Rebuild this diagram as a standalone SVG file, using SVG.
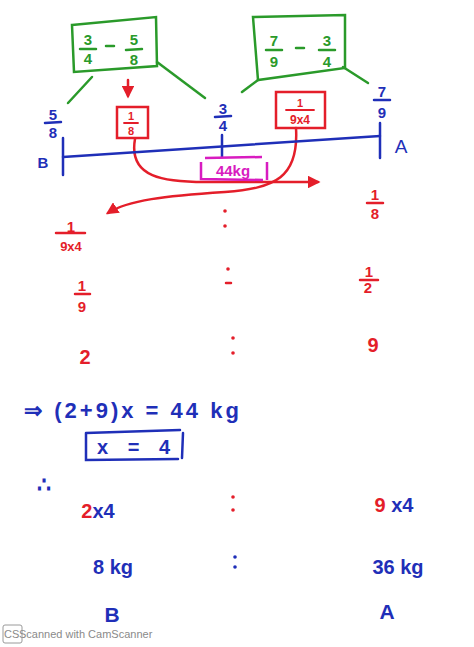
<svg xmlns="http://www.w3.org/2000/svg" width="474" height="647" viewBox="0 0 474 647">
<style>
text{font-family:"Liberation Sans",Arial,sans-serif;text-anchor:middle}
.g{fill:#2a9a2a}.gs{stroke:#2a9a2a;stroke-width:2.5;fill:none;stroke-linecap:round}
.b{fill:#1f2fb8}.bs{stroke:#1f2fb8;stroke-width:2.5;fill:none;stroke-linecap:round}
.r{fill:#e41e2a}.rs{stroke:#e41e2a;stroke-width:2.5;fill:none;stroke-linecap:round}
.m{fill:#d81cc0}.ms{stroke:#d81cc0;stroke-width:2.5;fill:none}
.f{font-size:15px;font-weight:bold}
.big{font-size:22px;font-weight:bold}
</style>
<defs>
<marker id="ah" viewBox="0 0 10 10" refX="8" refY="5" markerWidth="5" markerHeight="5" orient="auto">
<path d="M0,0 L10,5 L0,10 z" fill="#e41e2a"/>
</marker>
</defs>
<rect width="474" height="647" fill="#ffffff"/>

<g id="box1">
<path class="gs" d="M72,25 L156,17 L157,66 L74,72 Z"/>
<text class="g f" x="88" y="45">3</text>
<line class="gs" x1="80" y1="49" x2="96" y2="49"/>
<text class="g f" x="88" y="64">4</text>
<line class="gs" x1="106" y1="46" x2="114" y2="46"/>
<text class="g f" x="134" y="45">5</text>
<line class="gs" x1="126" y1="50" x2="142" y2="49"/>
<text class="g f" x="134" y="65">8</text>
</g>

<g id="box2">
<path class="gs" d="M253,17 L345,15 L345,68 L258,80 Z"/>
<text class="g f" x="274" y="46">7</text>
<line class="gs" x1="266" y1="50" x2="282" y2="50"/>
<text class="g f" x="274" y="67">9</text>
<line class="gs" x1="296" y1="48" x2="304" y2="48"/>
<text class="g f" x="327" y="46">3</text>
<line class="gs" x1="319" y1="50" x2="335" y2="50"/>
<text class="g f" x="327" y="67">4</text>
</g>

<g id="connectors">
<line class="gs" x1="92" y1="77" x2="68" y2="103"/>
<line class="gs" x1="157" y1="62" x2="205" y2="98"/>
<line class="gs" x1="258" y1="80" x2="242" y2="92"/>
<line class="gs" x1="343" y1="67" x2="368" y2="83"/>
<line class="rs" x1="128" y1="80" x2="128" y2="96" marker-end="url(#ah)"/>
<path class="rs" d="M135,139 C128,178 165,182 205,182 L318,182" marker-end="url(#ah)"/>
<path class="rs" d="M296,128 C299,178 275,188 225,192 C165,196 128,200 108,213" marker-end="url(#ah)"/>
</g>

<g id="redbox1">
<rect class="rs" x="117" y="107" width="31" height="31"/>
<text class="r" style="font-size:11px;font-weight:bold" x="131" y="120">1</text>
<line class="rs" x1="124" y1="123" x2="138" y2="123" style="stroke-width:1.8"/>
<text class="r" style="font-size:11px;font-weight:bold" x="131" y="135">8</text>
</g>

<g id="redbox2">
<rect class="rs" x="276" y="92" width="49" height="36"/>
<text class="r" style="font-size:11px;font-weight:bold" x="300" y="107">1</text>
<line class="rs" x1="286" y1="110" x2="314" y2="110" style="stroke-width:1.8"/>
<text class="r" style="font-size:12px;font-weight:bold" x="300" y="124">9x4</text>
</g>

<g id="numberline">
<text class="b f" x="53" y="120">5</text>
<line class="bs" x1="45" y1="123" x2="61" y2="122"/>
<text class="b f" x="53" y="138">8</text>
<text class="b f" x="223" y="114">3</text>
<line class="bs" x1="215" y1="117" x2="231" y2="116"/>
<text class="b f" x="223" y="131">4</text>
<text class="b f" x="382" y="97">7</text>
<line class="bs" x1="374" y1="100" x2="390" y2="100"/>
<text class="b f" x="382" y="118">9</text>
<text class="b f" x="43" y="168">B</text>
<line class="bs" x1="63" y1="157" x2="380" y2="136"/>
<line class="bs" x1="63" y1="138" x2="63" y2="175"/>
<line class="bs" x1="380" y1="123" x2="380" y2="158"/>
<line class="bs" x1="222" y1="135" x2="222" y2="157"/>
<text class="b" style="font-size:19px" x="401" y="153">A</text>
</g>

<g id="total">
<path class="ms" d="M205,158 L262,157 M201,162 L201,179 L263,180 M267,162 L267,180"/>
<text class="m" style="font-size:15px;font-weight:bold" x="233" y="176">44kg</text>
</g>

<g id="ratio1">
<text class="r f" x="375" y="200">1</text>
<line class="rs" x1="367" y1="203" x2="383" y2="203"/>
<text class="r f" x="375" y="219">8</text>
<circle class="r" cx="225" cy="211" r="1.8"/>
<circle class="r" cx="225" cy="226" r="1.8"/>
<text class="r f" x="71" y="232">1</text>
<line class="rs" x1="56" y1="233" x2="85" y2="233"/>
<text class="r" style="font-size:13px;font-weight:bold" x="71" y="251">9x4</text>
</g>

<g id="ratio2">
<text class="r f" x="82" y="291">1</text>
<line class="rs" x1="75" y1="294" x2="90" y2="294"/>
<text class="r f" x="82" y="312">9</text>
<circle class="r" cx="228" cy="269" r="1.8"/>
<line class="rs" x1="226" y1="283" x2="231" y2="283"/>
<text class="r f" x="369" y="277">1</text>
<line class="rs" x1="360" y1="280" x2="378" y2="280"/>
<text class="r f" x="368" y="293">2</text>
</g>

<g id="ratio3">
<text class="r" style="font-size:20px;font-weight:bold" x="85" y="364">2</text>
<circle class="r" cx="233" cy="338" r="1.8"/>
<circle class="r" cx="233" cy="353" r="1.8"/>
<text class="r" style="font-size:20px;font-weight:bold" x="373" y="352">9</text>
</g>

<g id="equation">
<text class="b big" style="letter-spacing:3px" x="133" y="418">⇒ (2+9)x = 44 kg</text>
<path class="bs" d="M86,433 L180,430 M86,433 L86,460 L178,459 M183,433 L182,458"/>
<text class="b" style="font-size:20px;font-weight:bold;letter-spacing:7px" x="137" y="454">x = 4</text>
</g>

<g id="therefore">
<text class="b" style="font-size:22px;font-weight:bold" x="44" y="492">∴</text>
</g>

<g id="ratio4">
<text class="b" style="font-size:20px;font-weight:bold" x="98" y="518"><tspan class="r">2</tspan>x4</text>
<circle class="r" cx="233" cy="497" r="1.8"/>
<circle class="r" cx="233" cy="510" r="1.8"/>
<text class="b" style="font-size:20px;font-weight:bold" x="394" y="512"><tspan class="r">9</tspan> x4</text>
</g>

<g id="result">
<text class="b" style="font-size:20px;font-weight:bold" x="113" y="574">8 kg</text>
<circle class="b" cx="235" cy="557" r="1.8"/>
<circle class="b" cx="235" cy="567" r="1.8"/>
<text class="b" style="font-size:20px;font-weight:bold" x="398" y="574">36 kg</text>
<text class="b" style="font-size:21px;font-weight:bold" x="112" y="622">B</text>
<text class="b" style="font-size:21px;font-weight:bold" x="387" y="619">A</text>
</g>

<g id="watermark">
<rect x="3" y="625" width="19" height="18" rx="2" fill="none" stroke="#9a9a9a" stroke-width="1"/>
<text style="font-size:11px;fill:#8a8a8a;text-anchor:start" x="4" y="638">CS</text>
<text style="font-size:11px;fill:#8a8a8a;text-anchor:start" x="19" y="638">Scanned with CamScanner</text>
</g>
</svg>
